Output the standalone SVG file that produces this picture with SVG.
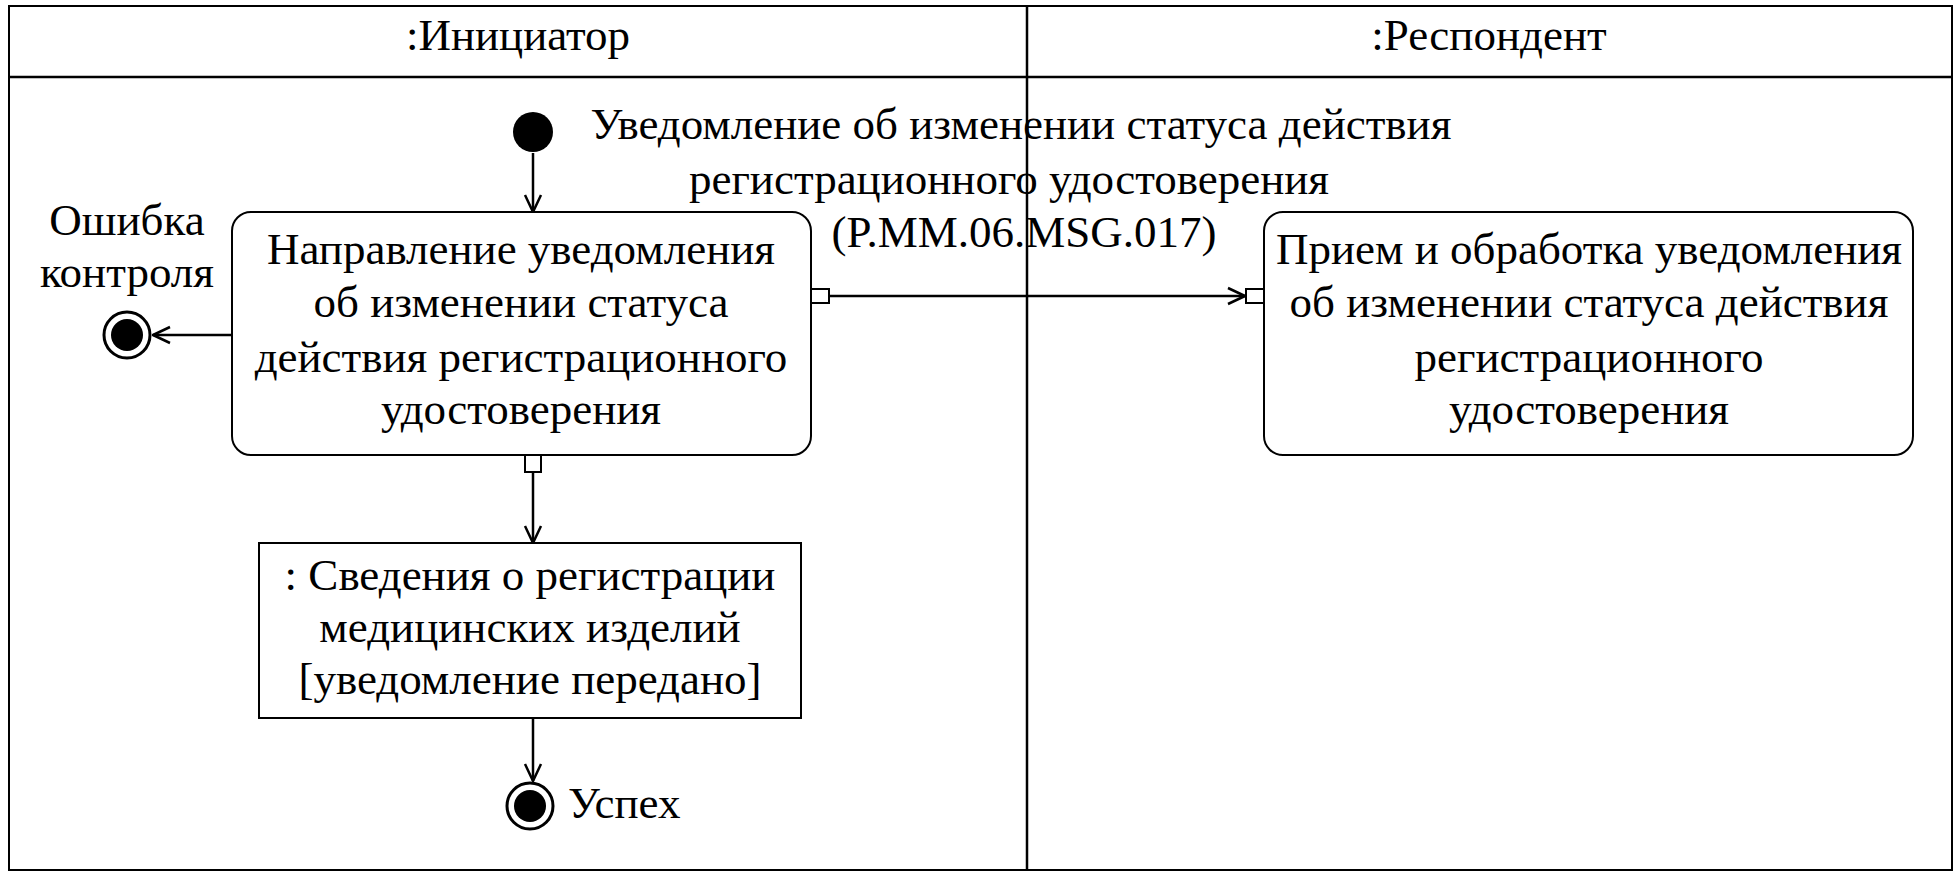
<svg xmlns="http://www.w3.org/2000/svg" width="1958" height="876" viewBox="0 0 1958 876">
<style>
text{font-family:"Liberation Serif","Times New Roman",serif;font-size:45px;fill:#000;text-anchor:middle;dominant-baseline:middle}
.ln{stroke:#000;stroke-width:2.5;fill:none}
.box{fill:#fff;stroke:#000;stroke-width:2}
</style>
<defs>
<marker id="a" viewBox="0 0 20 20" refX="19" refY="10" markerWidth="20" markerHeight="20" markerUnits="userSpaceOnUse" orient="auto">
<path d="M2,2 L19,10 L2,18" fill="none" stroke="#000" stroke-width="2.5"/>
</marker>
</defs>
<rect width="1958" height="876" fill="#fff"/>
<g id="frame">
<rect x="9" y="6" width="1943" height="864" class="box"/>
<line x1="9" y1="77" x2="1952" y2="77" class="ln" stroke-width="2"/>
<line x1="1027" y1="6" x2="1027" y2="870" class="ln" stroke-width="2"/>
<text x="518" y="40">:Инициатор</text>
<text x="1489" y="40">:Респондент</text>
</g>
<g id="connectors">
<line x1="533" y1="153" x2="533" y2="212" class="ln" marker-end="url(#a)"/>
<line x1="232" y1="335" x2="153" y2="335" class="ln" marker-end="url(#a)"/>
<line x1="829" y1="296" x2="1245" y2="296" class="ln" marker-end="url(#a)"/>
<line x1="533" y1="472" x2="533" y2="543" class="ln" marker-end="url(#a)"/>
<line x1="533" y1="718" x2="533" y2="781" class="ln" marker-end="url(#a)"/>
</g>
<g id="start"><circle cx="533" cy="132" r="20" fill="#000"/></g>
<g id="signal-label">
<text x="1021" y="129">Уведомление об изменении статуса действия</text>
<text x="1009" y="184">регистрационного удостоверения</text>
<text x="1024" y="237">(P.MM.06.MSG.017)</text>
</g>
<g id="action1">
<rect x="232" y="212" width="579" height="243" rx="19" class="box"/>
<text x="521" y="254">Направление уведомления</text>
<text x="521" y="307">об изменении статуса</text>
<text x="521" y="362">действия регистрационного</text>
<text x="521" y="414">удостоверения</text>
<rect x="811" y="289" width="18" height="14" class="box"/>
<rect x="525" y="455" width="16" height="17" class="box"/>
</g>
<g id="action2">
<rect x="1264" y="212" width="649" height="243" rx="19" class="box"/>
<text x="1589" y="254">Прием и обработка уведомления</text>
<text x="1589" y="307">об изменении статуса действия</text>
<text x="1589" y="362">регистрационного</text>
<text x="1589" y="414">удостоверения</text>
<rect x="1246" y="289" width="18" height="14" class="box"/>
</g>
<g id="error-end">
<circle cx="127" cy="335" r="23" fill="#fff" stroke="#000" stroke-width="3"/>
<circle cx="127" cy="335" r="16" fill="#000"/>
<text x="127" y="225">Ошибка</text>
<text x="127" y="277">контроля</text>
</g>
<g id="object">
<rect x="259" y="543" width="542" height="175" class="box"/>
<text x="530" y="580">: Сведения о регистрации</text>
<text x="530" y="632">медицинских изделий</text>
<text x="530" y="684">[уведомление передано]</text>
</g>
<g id="success-end">
<circle cx="530" cy="806" r="23" fill="#fff" stroke="#000" stroke-width="3"/>
<circle cx="530" cy="806" r="16" fill="#000"/>
<text x="568" y="808" style="text-anchor:start">Успех</text>
</g>
</svg>
